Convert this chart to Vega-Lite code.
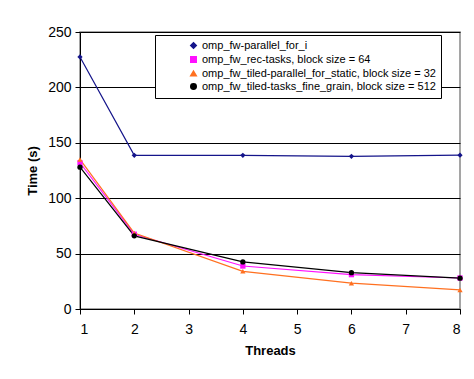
{
  "$schema": "https://vega.github.io/schema/vega-lite/v6.json",
  "width": 380,
  "height": 277,
  "autosize": "none",
  "padding": {"left": 80, "top": 32, "right": 14, "bottom": 70},
  "config": {
    "font": "Liberation Sans",
    "view": {"stroke": "#888888", "strokeWidth": 1.5},
    "axis": {"labelFont": "Liberation Sans", "titleFont": "Liberation Sans", "labelColor": "#000", "titleColor": "#000"}
  },
  "data": {
    "values": [
      {"threads": 1, "series": "omp_fw-parallel_for_i", "time": 227.5},
      {"threads": 2, "series": "omp_fw-parallel_for_i", "time": 138.7},
      {"threads": 4, "series": "omp_fw-parallel_for_i", "time": 138.7},
      {"threads": 6, "series": "omp_fw-parallel_for_i", "time": 137.8},
      {"threads": 8, "series": "omp_fw-parallel_for_i", "time": 138.8},
      {"threads": 1, "series": "omp_fw_rec-tasks, block size = 64", "time": 132},
      {"threads": 2, "series": "omp_fw_rec-tasks, block size = 64", "time": 67.5},
      {"threads": 4, "series": "omp_fw_rec-tasks, block size = 64", "time": 38.8},
      {"threads": 6, "series": "omp_fw_rec-tasks, block size = 64", "time": 31},
      {"threads": 8, "series": "omp_fw_rec-tasks, block size = 64", "time": 28},
      {"threads": 1, "series": "omp_fw_tiled-parallel_for_static, block size = 32", "time": 135},
      {"threads": 2, "series": "omp_fw_tiled-parallel_for_static, block size = 32", "time": 68.5},
      {"threads": 4, "series": "omp_fw_tiled-parallel_for_static, block size = 32", "time": 34},
      {"threads": 6, "series": "omp_fw_tiled-parallel_for_static, block size = 32", "time": 23.3},
      {"threads": 8, "series": "omp_fw_tiled-parallel_for_static, block size = 32", "time": 17.2},
      {"threads": 1, "series": "omp_fw_tiled-tasks_fine_grain, block size = 512", "time": 128},
      {"threads": 2, "series": "omp_fw_tiled-tasks_fine_grain, block size = 512", "time": 66},
      {"threads": 4, "series": "omp_fw_tiled-tasks_fine_grain, block size = 512", "time": 42.5},
      {"threads": 6, "series": "omp_fw_tiled-tasks_fine_grain, block size = 512", "time": 32.8},
      {"threads": 8, "series": "omp_fw_tiled-tasks_fine_grain, block size = 512", "time": 27.8}
    ]
  },
  "encoding": {
    "x": {
      "field": "threads", "type": "quantitative",
      "scale": {"domain": [1, 8], "nice": false, "zero": false},
      "axis": {"values": [1,2,3,4,5,6,7,8], "grid": false, "title": "Threads", "titleFontSize": 13, "titleFontWeight": "bold", "labelFontSize": 14, "tickSize": 5, "tickColor": "#000", "domainColor": "#000", "labelPadding": 8, "titlePadding": 8}
    },
    "y": {
      "field": "time", "type": "quantitative",
      "scale": {"domain": [0, 250], "nice": false},
      "axis": {"values": [0,50,100,150,200,250], "grid": true, "gridColor": "#000", "gridOpacity": 1, "gridWidth": 1, "title": "Time (s)", "titleFontSize": 13, "titleFontWeight": "bold", "labelFontSize": 14, "tickSize": 5, "tickColor": "#000", "domainColor": "#000", "labelPadding": 4, "titlePadding": 8}
    },
    "color": {
      "field": "series", "type": "nominal",
      "scale": {
        "domain": ["omp_fw-parallel_for_i", "omp_fw_rec-tasks, block size = 64", "omp_fw_tiled-parallel_for_static, block size = 32", "omp_fw_tiled-tasks_fine_grain, block size = 512"],
        "range": ["#14148a", "#ff10ff", "#ff7020", "#000000"]
      },
      "legend": {
        "orient": "none", "legendX": 75, "legendY": 3, "title": null,
        "strokeColor": "#000", "fillColor": "#fff", "padding": 5,
        "labelFontSize": 11, "labelColor": "#000", "labelLimit": 400, "symbolOffset": 28, "symbolSize": 30, "rowPadding": 1, "labelOffset": 3
      }
    },
    "shape": {
      "field": "series", "type": "nominal",
      "scale": {
        "domain": ["omp_fw-parallel_for_i", "omp_fw_rec-tasks, block size = 64", "omp_fw_tiled-parallel_for_static, block size = 32", "omp_fw_tiled-tasks_fine_grain, block size = 512"],
        "range": ["diamond", "square", "triangle-up", "circle"]
      },
      "legend": null
    }
  },
  "layer": [
    {"mark": {"type": "line", "strokeWidth": 1.2}, "encoding": {"shape": null}},
    {"mark": {"type": "point", "filled": true, "size": 28, "opacity": 1}}
  ]
}
